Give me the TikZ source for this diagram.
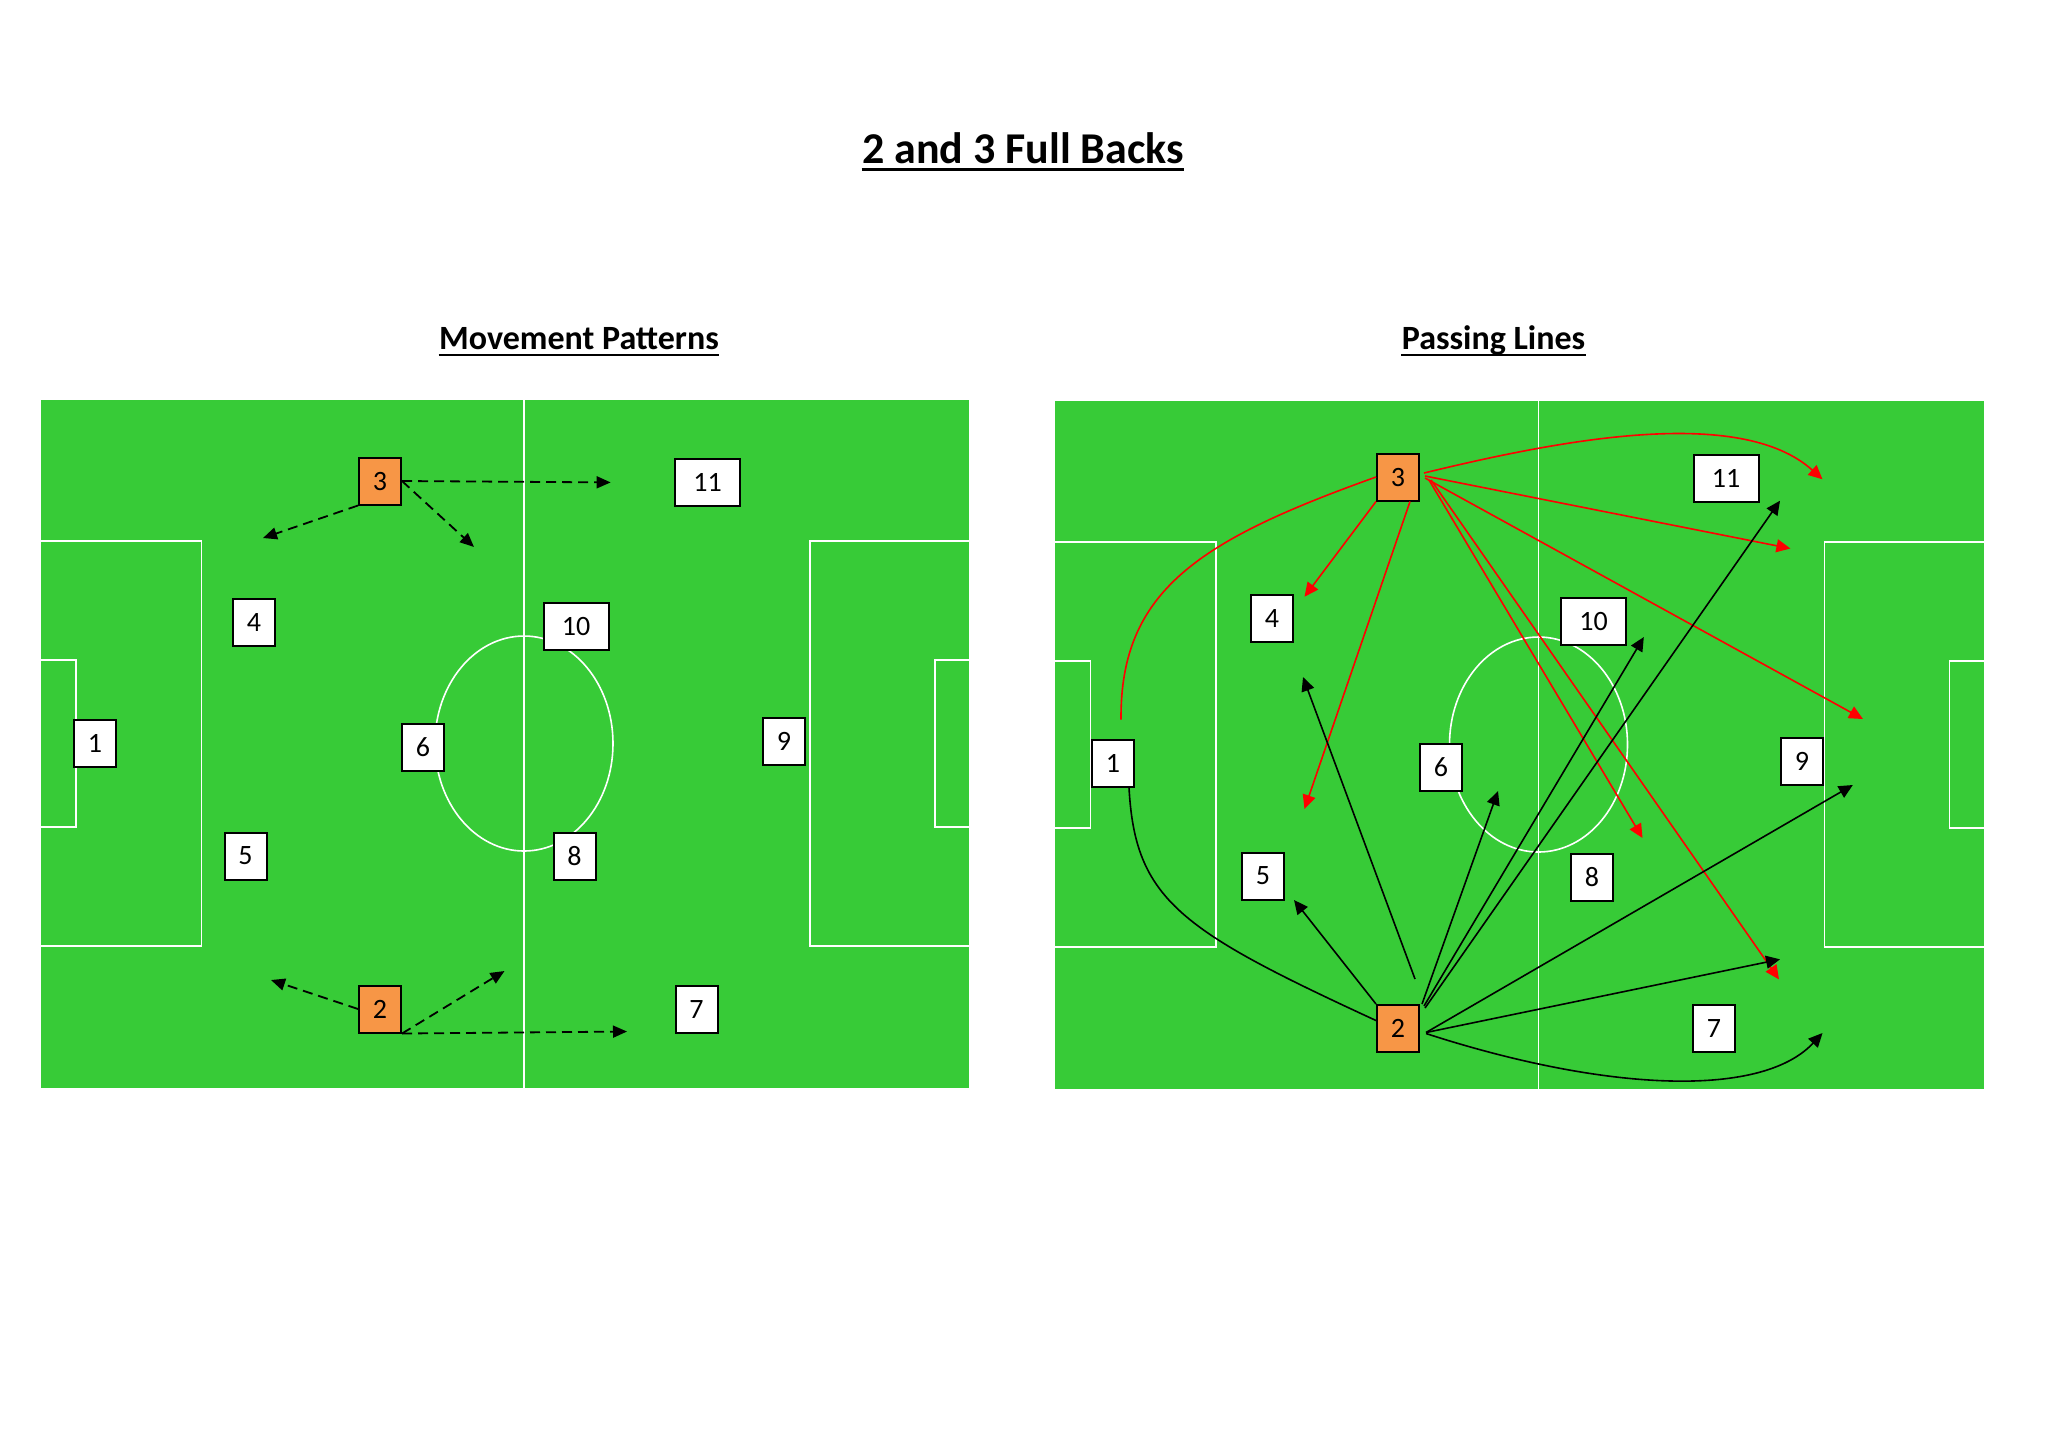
\documentclass[tikz,border=0pt]{standalone}
\usepackage{fontspec}
\setmainfont{Carlito}
\usetikzlibrary{arrows.meta,calc}
\definecolor{pitchgreen}{RGB}{55,203,55}
\definecolor{fborange}{RGB}{247,150,70}
\begin{document}
\begin{tikzpicture}[x=0.5pt,y=-0.5pt,
  player/.style={draw=black,line width=1pt,fill=white,minimum width=21pt,minimum height=23.5pt,inner sep=0pt,font=\fontsize{14}{15}\selectfont},
  wideplayer/.style={player,minimum width=32.5pt},
  backplayer/.style={player,fill=fborange},
  pitchline/.style={white,line width=0.8pt},
  movearrow/.style={black,dash pattern=on 5pt off 3pt,line width=0.9pt,-{Triangle[length=7pt,width=6pt]}},
  redpass/.style={red,line width=0.8pt,-{Triangle[length=7pt,width=6.5pt]}},
  blackpass/.style={black,line width=0.8pt,-{Triangle[length=7pt,width=6.5pt]}},
  plainred/.style={red,line width=0.8pt},
  plainblack/.style={black,line width=0.8pt},
  titletext/.style={inner sep=0pt,anchor=base,font=\bfseries\fontsize{22}{26}\selectfont},
  subtext/.style={inner sep=0pt,anchor=base,font=\bfseries\fontsize{17}{20}\selectfont}
]
\useasboundingbox (0,0) rectangle (2048,1448);
\fill[white] (0,0) rectangle (2048,1448);

% titles
\node[titletext] (title) at (1023,163.5) {2 and 3 Full Backs};
\draw[line width=1.6pt] ($(title.base west)+(0,6)$) -- ($(title.base east)+(0,6)$);
\node[subtext] (subA) at (579,349) {Movement Patterns};
\draw[line width=1.2pt] ($(subA.base west)+(0,6)$) -- ($(subA.base east)+(0,6)$);
\node[subtext] (subB) at (1493.5,349) {Passing Lines};
\draw[line width=1.2pt] ($(subB.base west)+(0,6)$) -- ($(subB.base east)+(0,6)$);

% pitches
\foreach \dx/\dy in {0/0,1014.5/1}{
\begin{scope}[shift={(\dx,\dy)}]
\fill[pitchgreen] (40.5,400) rectangle (969,1088);
\draw[pitchline] (524,400) -- (524,1088);
\draw[pitchline] (40.5,541) -- (201.5,541) -- (201.5,946) -- (40.5,946);
\draw[pitchline] (40.5,660) -- (76,660) -- (76,827) -- (40.5,827);
\draw[pitchline] (969,541) -- (810,541) -- (810,946) -- (969,946);
\draw[pitchline] (969,660) -- (935,660) -- (935,827) -- (969,827);
\draw[pitchline] (524,743.5) ellipse [x radius=89, y radius=107.5];
\end{scope}}

% left pitch players
\node[backplayer] (l3) at (380,481) {3};
\node[wideplayer] (l11) at (707.5,482) {11};
\node[player] (l4) at (254,622) {4};
\node[wideplayer] (l10) at (576,626) {10};
\node[player] (l1) at (95,743.5) {1};
\node[player] (l6) at (423,747) {6};
\node[player] (l9) at (784,741.5) {9};
\node[player] (l5) at (245.5,856) {5};
\node[player] (l8) at (574.5,856.5) {8};
\node[backplayer] (l2) at (380,1009) {2};
\node[player] (l7) at (696.5,1009) {7};

% left pitch movement targets
\coordinate (m1) at (610.6,482.4);
\coordinate (m2) at (263,538);
\coordinate (m3) at (474,547);
\coordinate (m4) at (271,980);
\coordinate (m5) at (504.5,971);
\coordinate (m6) at (627,1031.5);
\draw[movearrow] (l3.east) -- (m1);
\draw[movearrow] (l3.south west) -- (m2);
\draw[movearrow] (l3.east) -- (m3);
\draw[movearrow] (l2.west) -- (m4);
\draw[movearrow] (l2.south east) -- (m5);
\draw[movearrow] (l2.south east) -- (m6);

% right pitch players
\node[backplayer] (r3) at (1398,477) {3};
\node[wideplayer] (r11) at (1726,478) {11};
\node[player] (r4) at (1272,618) {4};
\node[wideplayer] (r10) at (1593.5,621) {10};
\node[player] (r1) at (1113,763) {1};
\node[player] (r6) at (1441,767) {6};
\node[player] (r9) at (1802,761.5) {9};
\node[player] (r5) at (1263,876) {5};
\node[player] (r8) at (1592,877) {8};
\node[backplayer] (r2) at (1398,1028.5) {2};
\node[player] (r7) at (1714,1028.5) {7};

% passing targets
\coordinate (pb) at (1304.5,596.7);
\coordinate (pc) at (1304.5,809);
\coordinate (pd) at (1822.5,479.3);
\coordinate (pe) at (1790.4,548.5);
\coordinate (pf) at (1863,719);
\coordinate (pg) at (1642.5,838);
\coordinate (ph) at (1779,979.4);
\coordinate (pj) at (1294,900);
\coordinate (pk) at (1303,677);
\coordinate (pl) at (1498,791);
\coordinate (pm) at (1643.8,637);
\coordinate (pn) at (1780,500.7);
\coordinate (po) at (1852.8,785);
\coordinate (pp) at (1780,959.3);
\coordinate (pq) at (1822.5,1033);

% red passes from 3
\draw[plainred] ($(r1.north)+(8,-19)$) .. controls (1120,590) and (1200,540) .. (r3.west);
\draw[redpass] (r3.south west) -- (pb);
\draw[redpass] ($(r3.south)+(12,0)$) -- (pc);
\draw[redpass] ($(r3.east)+(4,-4)$) .. controls (1560,440) and (1740,405) .. (pd);
\draw[redpass] ($(r3.east)+(5,-1)$) -- (pe);
\draw[redpass] ($(r3.east)+(5,1)$) -- (pf);
\draw[redpass] ($(r3.east)+(9,3)$) -- (pg);
\draw[redpass] ($(r3.east)+(11,3)$) -- (ph);

% black passes from 2
\draw[plainblack] ($(r1.south)+(16,0)$) .. controls (1135,900) and (1180,930) .. ($(r2.west)+(0,-8)$);
\draw[blackpass] (r2.north west) -- (pj);
\draw[blackpass] ($(r2.north)+(17,-25)$) -- (pk);
\draw[blackpass] ($(r2.north east)+(2,0)$) -- (pl);
\draw[blackpass] ($(r2.north east)+(4,2)$) -- (pm);
\draw[blackpass] ($(r2.north east)+(5,4)$) -- (pn);
\draw[blackpass] ($(r2.east)+(6,4)$) -- (po);
\draw[blackpass] ($(r2.east)+(6,4)$) -- (pp);
\draw[blackpass] ($(r2.east)+(6,5)$) .. controls (1600,1090) and (1760,1100) .. (pq);
\end{tikzpicture}
\end{document}
